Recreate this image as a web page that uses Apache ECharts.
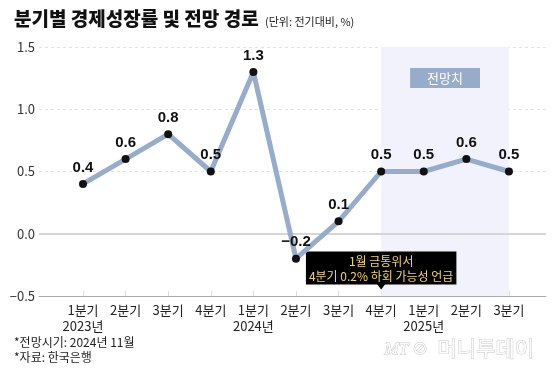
<!DOCTYPE html>
<html><head><meta charset="utf-8">
<script src="https://cdn.jsdelivr.net/npm/echarts@6/dist/echarts.min.js"></script>
<style>html,body{margin:0;padding:0;background:#fff}#c{width:560px;height:384px}</style>
</head><body><div id="c"></div>
<script>
const quarters = ['1분기','2분기','3분기','4분기','1분기','2분기','3분기','4분기','1분기','2분기','3분기'];
const years = ['2023년','','','','2024년','','','','2025년','',''];
const growth = [0.4,0.6,0.8,0.5,1.3,-0.2,0.1,0.5,0.5,0.6,0.5];
const forecastStart = 7, forecastEnd = 10;
const yTicks = {min:-0.5, max:1.5, interval:0.5};
const titleText = '분기별 경제성장률 및 전망 경로';
const unitText = '(단위: 전기대비, %)';
const forecastLabel = '전망치';
const noteText = ['1월 금통위서','4분기 0.2% 하회 가능성 언급'];
const noteIndex = 7;
const footnotes = ['*전망시기: 2024년 11월','*자료: 한국은행'];

const FF = "'Liberation Sans Narrow','Noto Sans CJK KR',sans-serif";
const KF = "'Noto Sans CJK KR',sans-serif";
const minus = s => String(s).replace('-', '−');
const idx = quarters.map((_, i) => i);

const chart = echarts.init(document.getElementById('c'), null, {renderer:'canvas'});
chart.setOption({
  animation:false,
  backgroundColor:'#fff',
  grid:{left:39, right:14, top:47, bottom:88},
  xAxis:{
    type:'value', min:-1.033, max:10.87,
    splitLine:{show:false},
    axisLine:{show:true, onZero:false, lineStyle:{color:'#aaa', width:1}},
    axisTick:{show:true, inside:true, length:5, customValues:idx, lineStyle:{color:'#ddd'}},
    axisLabel:{customValues:idx, color:'#222', fontSize:13, fontFamily:KF, lineHeight:16, margin:6,
      formatter:v => { const i = Math.round(v); return years[i] ? quarters[i] + '\n' + years[i] : quarters[i]; }}
  },
  yAxis:{
    type:'value', min:yTicks.min, max:yTicks.max, interval:yTicks.interval,
    axisLine:{show:false}, axisTick:{show:false},
    splitLine:{show:true, lineStyle:{color:'#e2e2e2', type:[3,3], width:1}},
    axisLabel:{color:'#333', fontSize:13, fontFamily:FF, margin:4, formatter:v => minus(v.toFixed(1))}
  },
  series:[{
    type:'line',
    data:growth.map((v,i)=>[i,v]),
    lineStyle:{color:'#97abcb', width:5},
    itemStyle:{color:'#111'},
    symbol:'circle', symbolSize:8,
    z:5,
    label:{show:true, position:'top', distance:5, color:'#111', fontSize:15, fontWeight:'bold', fontFamily:"'Liberation Sans','Noto Sans',sans-serif",
      formatter:p => minus(p.value[1].toFixed(1))},
    markArea:{silent:true,
      itemStyle:{color:'#f1f2fc'},
      label:{show:true, position:'insideTop', distance:21, backgroundColor:'#97abcb', color:'#fff', fontSize:13, fontFamily:KF, padding:[2,17,2,17], lineHeight:16},
      data:[[{xAxis:forecastStart, yAxis:yTicks.max, name:forecastLabel},{xAxis:forecastEnd, yAxis:yTicks.min}]]
    },
    markLine:{silent:true, symbol:'none', label:{show:false},
      lineStyle:{color:'#d6d6d6', width:2, type:'solid'},
      data:[{yAxis:0}]
    },
    markPoint:{silent:true,
      data:[{coord:[noteIndex, -0.424], symbol:'triangle', symbolRotate:180, symbolSize:[9,6],
        itemStyle:{color:'#000'},
        label:{show:true, position:'top', distance:-1, formatter:noteText.join('\n'),
          backgroundColor:'#000', color:'#f2d466', fontSize:12, fontFamily:KF, lineHeight:15, padding:[2,3,1,3], align:'center'}}]
    }
  }],
  graphic:[
    {type:'text', left:14, top:9, style:{text:titleText, font:"900 19px 'Noto Sans CJK KR',sans-serif", fill:'#111'}},
    {type:'text', left:265, top:16, style:{text:unitText, font:"11px 'Noto Sans CJK KR',sans-serif", fill:'#222'}},
    {type:'text', left:14, top:335, style:{text:footnotes.join('\n'), font:"12px 'Noto Sans CJK KR',sans-serif", fill:'#222', lineHeight:15}},
    {type:'text', left:384, top:341, style:{text:'MT', font:"italic 17px 'Liberation Serif',serif", fill:'#fff', stroke:'#c8c8c8', lineWidth:1}},
    {type:'text', left:412, top:340, style:{text:'⊘', font:"18px 'DejaVu Sans',sans-serif", fill:'#fff', stroke:'#c8c8c8', lineWidth:1}},
    {type:'text', left:437, top:337, style:{text:'머니투데이', font:"21px 'Noto Sans CJK KR',sans-serif", fill:'#fff', stroke:'#c8c8c8', lineWidth:1}}
  ]
});
</script></body></html>
